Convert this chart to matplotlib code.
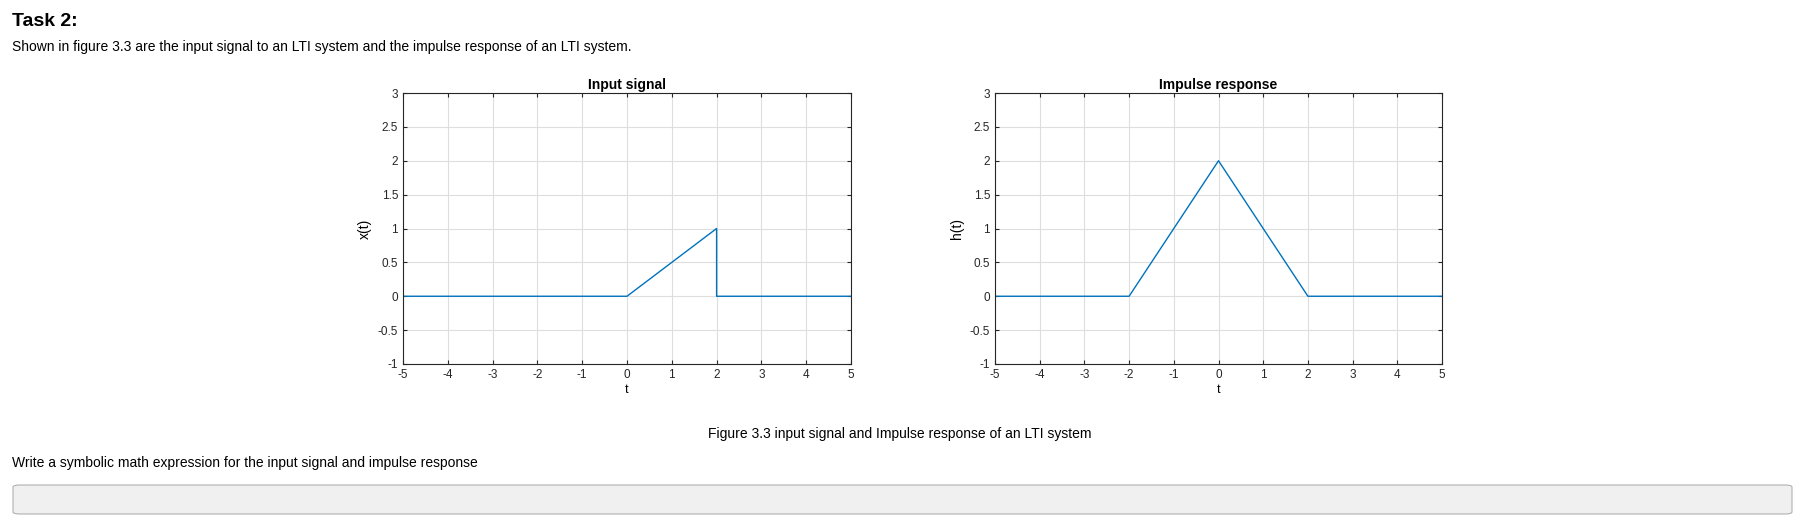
import matplotlib
matplotlib.use("Agg")
import matplotlib.pyplot as plt
from matplotlib.patches import FancyBboxPatch

plt.rcParams['font.family'] = ['Liberation Sans', 'DejaVu Sans']

# data
t_x = [-5, 0, 2, 2, 5]
x_vals = [0, 0, 1, 0, 0]
t_h = [-5, -2, 0, 2, 5]
h_vals = [0, 0, 2, 0, 0]
xticks = [-5, -4, -3, -2, -1, 0, 1, 2, 3, 4, 5]
yticks = [-1, -0.5, 0, 0.5, 1, 1.5, 2, 2.5, 3]
ytick_labels = ['-1', '-0.5', '0', '0.5', '1', '1.5', '2', '2.5', '3']

W, H = 1801, 526
fig = plt.figure(figsize=(W / 100, H / 100), dpi=100)

def box(l, t, r, b):
    return [l / W, 1 - b / H, (r - l) / W, (b - t) / H]

def setup(ax, title, ylabel):
    ax.set_xlim(-5, 5)
    ax.set_ylim(-1, 3)
    ax.set_xticks(xticks)
    ax.set_xticklabels([str(v) for v in xticks])
    ax.set_yticks(yticks)
    ax.set_yticklabels(ytick_labels)
    ax.grid(True, color='#dedede', linewidth=0.8)
    ax.tick_params(labelsize=8.5, colors='#262626', direction='in', length=3,
                   top=True, right=True)
    for s in ax.spines.values():
        s.set_color('#262626')
        s.set_linewidth(0.8)
    ax.set_title(title, fontsize=10, fontweight='bold', pad=3)
    ax.set_xlabel('t', fontsize=9, labelpad=2)
    ax.set_ylabel(ylabel, fontsize=10)

ax1 = fig.add_axes(box(403, 93, 851, 364))
ax1.plot(t_x, x_vals, color='#0072BD', linewidth=1)
setup(ax1, 'Input signal', 'x(t)')

ax2 = fig.add_axes(box(995, 93, 1442, 364))
ax2.plot(t_h, h_vals, color='#0072BD', linewidth=1)
setup(ax2, 'Impulse response', 'h(t)')

fig.text(12 / W, 1 - 21 / H, 'Task 2:', fontsize=14, fontweight='bold', va='center')
fig.text(12 / W, 1 - 47 / H,
         'Shown in figure 3.3 are the input signal to an LTI system and the impulse response of an LTI system.',
         fontsize=10, va='center')
fig.text(900 / W, 1 - 434 / H, 'Figure 3.3 input signal and Impulse response of an LTI system',
         fontsize=10, ha='center', va='center')
fig.text(12 / W, 1 - 463 / H, 'Write a symbolic math expression for the input signal and impulse response',
         fontsize=10, va='center')
fig.patches.append(FancyBboxPatch((13 / W, 1 - 514 / H), (1792 - 13) / W, 29 / H,
                                  boxstyle='round,pad=0,rounding_size=0.004',
                                  transform=fig.transFigure, facecolor='#f0f0f0',
                                  edgecolor='#b0b0b0', linewidth=0.8))

fig.savefig('out.png', dpi=100)
